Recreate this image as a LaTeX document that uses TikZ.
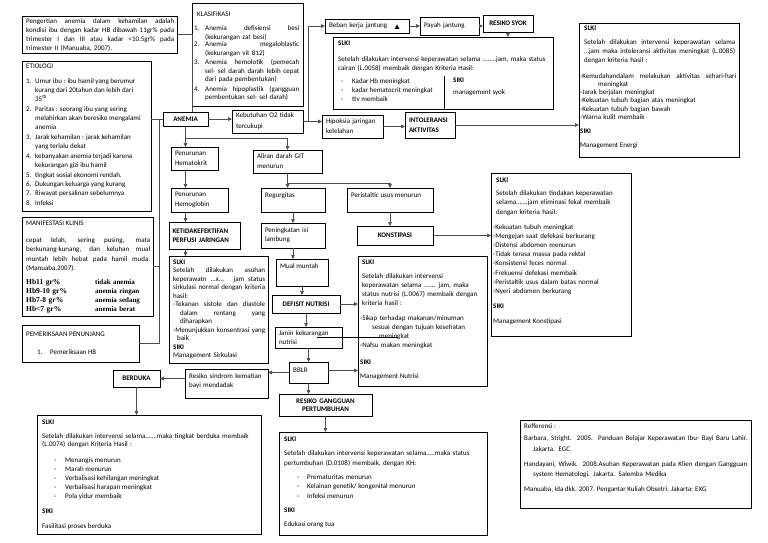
\documentclass[tikz,border=0pt]{standalone}
\usepackage{fontspec}
\setmainfont{Carlito}
\newfontfamily\serifx{Liberation Serif}
\usetikzlibrary{arrows.meta,calc}
\newcommand\ft{\fontsize{7}{9.2}\selectfont}
\newcommand\jl[1]{\makebox[\linewidth][s]{\spaceskip=0pt\relax\xspaceskip=0pt\relax #1}}
\newcommand\bx[5]{\node[box, anchor=north west, minimum width=#4pt-#2pt, minimum height=#5pt-#3pt] (#1) at (#2,#3) {};}
\begin{document}
\begin{tikzpicture}[x=1pt,y=-1pt,
 box/.style={draw=black, line width=0.8pt, inner sep=0pt, outer sep=0pt},
 tx/.style={anchor=base west, inner sep=0pt, font=\ft},
 tb/.style={anchor=base west, inner sep=0pt, font=\ft},
 kl/.style={tx, text width=94pt, font=\fontsize{7}{8.4}\selectfont},
 con/.style={draw=black!70, line width=0.6pt},
 arr/.style={con, -{Triangle[length=4pt,width=3.6pt]}}]
\useasboundingbox (0,0) rectangle (768,543);
\fill[white] (0,0) rectangle (768,543);

% ---------- definition
\bx{def}{22}{16}{177}{53}
\node[tx, text width=148pt, font=\fontsize{7}{8.7}\selectfont] (def-t) at (26,24) {\jl{Pengertian anemia dalam kehamilan adalah}\\\jl{kondisi ibu dengan kadar HB dibawah 11gr\% pada}\\\jl{trimester I dan III atau kadar <10.5gr\% pada}\\trimester II (Manuaba, 2007).};

% ---------- klasifikasi
\bx{klas}{192}{3}{303}{106}
\node[tx] (klas-h) at (197,17) {KLASIFIKASI};
\node[tx] (k1n) at (194,31) {1.};
\node[kl] (k1) at (205,31) {\jl{Anemia defisiensi besi}\\(kekurangan zat besi)};
\node[tx] (k2n) at (194,47) {2.};
\node[kl] (k2) at (205,47) {\jl{Anemia megaloblastic}\\(kekurangan vit B12)};
\node[tx] (k3n) at (194,65) {3.};
\node[kl] (k3) at (205,65) {\jl{Anemia hemolotik (pemecah}\\\jl{sel- sel darah darah lebih cepat}\\dari pada pembentukan)};
\node[tx] (k4n) at (194,91) {4.};
\node[kl] (k4) at (205,91) {\jl{Anemia hipoplastik (gangguan}\\pembentukan sel- sel darah)};

% ---------- etiologi
\bx{etio}{22}{61}{151}{211}
\node[tx] (etio-h) at (26,69) {ETIOLOGI};
\node[tb, font=\fontsize{7}{9.4}\selectfont] (etio-l) at (26,83) {\begin{tabular}[t]{@{}p{9pt}@{}l@{}}
1.&Umur ibu : ibu hamil yang berumur\\
&kurang dari 20tahun dan lebih dari\\
&35\textsuperscript{th}\\
2.&Paritas : seorang ibu yang sering\\
&melahirkan akan beresiko mengalami\\
&anemia\\
3.&Jarak kehamilan : jarak kehamilan\\
&yang terlalu dekat\\
4.&kebanyakan anemia terjadi karena\\
&kekurangan gizi ibu hamil\\
5.&tingkat sosial ekonomi rendah.\\
6.&Dukungan keluarga yang kurang\\
7.&Riwayat persalinan sebelumnya\\
8.&Infeksi
\end{tabular}};

% ---------- manifestasi
\bx{manif}{22}{217}{153}{316}
\node[tx] (manif-h) at (26,225) {MANIFESTASI KLINIS};
\node[tx, text width=124pt, font=\fontsize{7}{9.5}\selectfont] (manif-p) at (26,242) {\jl{cepat lelah, sering pusing, mata}\\\jl{berkunang-kunang, dan keluhan mual}\\\jl{muntah lebih hebat pada hamil muda.}\\(Manuaba,2007).};
\node[tx, text width=62pt, font=\serifx\fontsize{7.5}{9}\selectfont\bfseries] (hb-l) at (26,284) {Hb11 gr\%\\Hb9-10 gr\%\\Hb7-8 gr\%\\Hb<7 gr\%};
\node[tx, text width=55pt, font=\serifx\fontsize{7}{9}\selectfont\bfseries] (hb-r) at (95,284) {tidak anemia\\anemia ringan\\anemia sedang\\anemia berat};

% ---------- pemeriksaan
\bx{pemer}{22}{325}{139}{362}
\node[tx] (pemer-h) at (26,336) {PEMERIKSAAN PENUNJANG};
\node[tx] (pemer-1) at (37,354) {\makebox[13pt][l]{1.}Pemeriksaan HB};

% ---------- anemia and top chain
\node[box, anchor=north west, minimum width=45pt, minimum height=14pt, font=\ft\bfseries] (anemia) at (163,112) {ANEMIA};
\node[box, anchor=north west, minimum width=71pt, minimum height=23pt, text width=63pt, font=\fontsize{7}{11}\selectfont] (kebut) at (232,110) {Kebutuhan O2 tidak\\tercukupi};
\node[box, anchor=north west, minimum width=84pt, minimum height=14pt, text width=76pt, font=\ft] (beban) at (325,19) {Beban kerja jantung};
\fill[black] (397,24.5) -- (399.3,28.8) -- (394.7,28.8) -- cycle;
\node[box, anchor=north west, minimum width=59pt, minimum height=18pt, text width=51pt, font=\ft] (payah) at (420,17) {Payah jantung};
\node[box, anchor=north west, minimum width=50pt, minimum height=17pt, font=\ft\bfseries] (syok) at (483,15) {RESIKO SYOK};

\bx{slkisyok}{333}{37}{553}{109}
\node[tx, font=\ft\bfseries] (ss-h) at (338,46) {SLKI};
\node[tx, text width=212pt, font=\fontsize{7}{9}\selectfont] (ss-p) at (338,61.5) {Setelah dilakukan intervensi keperawatan selama ……..jam, maka status\\cairan (L.0058) membaik dengan Kriteria Hasil:};
\node[tb, font=\fontsize{7}{8.6}\selectfont] (ss-l) at (341,84) {\begin{tabular}[t]{@{}p{11pt}@{}l@{}}-&Kadar Hb meningkat\\-&kadar hematocrit meningkat\\-&ttv membaik\end{tabular}};
\coordinate (dv1) at (444,76);
\draw[line width=0.8pt] (dv1) -- (dv1 |- slkisyok.south);
\node[tx, font=\ft\bfseries] (ss-s) at (453,82) {SIKI};
\node[tx] (ss-m) at (453,94) {management syok};

\node[box, anchor=north west, minimum width=61pt, minimum height=23pt, text width=53pt, font=\fontsize{7}{10}\selectfont] (hipok) at (322,115) {Hipoksia jaringan\\kelelahan};
\node[box, anchor=north west, minimum width=50pt, minimum height=26pt, text width=42pt, font=\fontsize{7}{10}\selectfont\bfseries] (intol) at (405,112) {INTOLERANSI\\AKTIVITAS};

\bx{slkien}{579}{23}{739}{157}
\node[tx, font=\ft\bfseries] (se-h) at (584,31) {SLKI};
\node[tx, text width=151pt, font=\fontsize{7}{9}\selectfont] (se-p) at (584,45) {\jl{Setelah dilakukan intervensi keperawatan selama}\\\jl{…jam maka intoleransi aktivitas meningkat (L.0085)}\\dengan kriteria hasil :};
\node[tx, text width=156pt, font=\fontsize{7}{8.3}\selectfont] (se-l) at (580,78) {\jl{-Kemudahandalam melakukan aktivitas sehari-hari}\\\hspace*{18pt}meningkat\\-Jarak berjalan meningkat\\-Kekuatan tubuh bagian atas meningkat\\-Kekuatan tubuh bagian bawah\\-Warna kulit membaik};
\node[tx, font=\ft\bfseries] (se-s) at (580,133) {SIKI};
\node[tx] (se-m) at (580,147) {Management Energi};

% ---------- left chain
\node[box, anchor=north west, minimum width=47pt, minimum height=23pt, text width=39pt, font=\fontsize{7}{9.5}\selectfont] (hemat) at (171,147) {Penurunan\\Hematokrit};
\node[box, anchor=north west, minimum width=57pt, minimum height=24pt, text width=49pt, font=\fontsize{7}{9.5}\selectfont] (hemog) at (171,188) {Penurunan\\Hemoglobin};
\node[box, anchor=north west, minimum width=71pt, minimum height=27pt, text width=64pt, font=\fontsize{7}{9}\selectfont\bfseries] (ketidak) at (169,222) {KETIDAKEFEKTIFAN\\PERFUSI JARINGAN};

\bx{slkisirk}{169}{256}{268}{363}
\node[tx, text width=92pt, font=\fontsize{7}{8.5}\selectfont] (sk-p) at (173,264) {\textbf{SLKI}\\\jl{Setelah dilakukan asuhan}\\\jl{keperawatn ...x... jam status}\\\jl{sirkulasi normal dengan kriteria}\\hasil:\\\jl{-Tekanan sistole dan diastole}\\\hspace*{7pt}\makebox[85pt][s]{\spaceskip=0pt\relax dalam rentang yang}\\\hspace*{7pt}diharapkan\\\jl{-Menunjukkan konsentrasi yang}\\\hspace*{4pt}baik\\\textbf{SIKI}\\Management Sirkulasi};

% ---------- middle chain
\node[box, anchor=north west, minimum width=69pt, minimum height=23pt, text width=61pt, font=\fontsize{7}{10}\selectfont] (aliran) at (253,150) {Aliran darah GIT\\menurun};
\bx{regurg}{261}{188}{325}{212}
\node[tx] (regurg-t) at (265,197) {Regurgitas};
\bx{perist}{347}{188}{433}{212}
\node[tx] (perist-t) at (351,197) {Peristaltic usus menurun};
\node[box, anchor=north west, minimum width=76pt, minimum height=19pt, font=\ft\bfseries] (konst) at (357,226) {KONSTIPASI};

\bx{slkikonst}{491}{173}{631}{336}
\node[tx, font=\ft\bfseries] (sko-h) at (496,182) {SLKI};
\node[tx, text width=133pt, font=\fontsize{7}{9.5}\selectfont] (sko-p) at (496,195) {Setelah dilakukan tindakan keperawatan\\selama…….jam eliminasi fekal membaik\\dengan kriteria hasil:};
\node[tx, text width=135pt, font=\fontsize{7}{9.2}\selectfont] (sko-l) at (493,229) {-Kekuatan tubuh meningkat\\-Mengejan saat defekasi berkurang\\-Distensi abdomen menurun\\-Tidak terasa massa pada rektal\\-Konsistensi feces normal\\-Frekuensi defekasi membaik\\-Peristaltik usus dalam batas normal\\-Nyeri abdomen berkurang};
\node[tx, font=\ft\bfseries] (sko-s) at (493,308) {SIKI};
\node[tx] (sko-m) at (493,323) {Management Konstipasi};

\node[box, anchor=north west, minimum width=64pt, minimum height=25pt, text width=56pt, font=\fontsize{7}{9}\selectfont] (pening) at (261,223) {Peningkatan isi\\lambung};
\bx{mual}{276}{259}{328}{286}
\node[tx] (mual-t) at (280,268) {Mual muntah};
\node[box, anchor=north west, minimum width=68pt, minimum height=18pt, font=\ft\bfseries] (defisit) at (272,295) {DEFISIT NUTRISI};
\node[box, anchor=north west, minimum width=67pt, minimum height=21pt, text width=59pt, font=\fontsize{7}{9}\selectfont] (janin) at (275,327) {Janin kekurangan\\nutrisi};

\bx{slkinutr}{358}{256}{487}{386}
\node[tx, font=\ft\bfseries] (sn-h) at (362,264) {SLKI};
\node[tx, text width=123pt, font=\fontsize{7}{9}\selectfont] (sn-p) at (362,278) {Setelah dilakukan intervensi\\keperawatan selama ……. jam, maka\\status nutrisi (L.0067) membaik dengan\\kriteria hasil :};
\node[tx, text width=125pt, font=\fontsize{7}{9}\selectfont] (sn-l) at (360,320) {-Sikap terhadap makanan/minuman\\\hspace*{12pt}sesuai dengan tujuan kesehatan\\\hspace*{19pt}meningkat\\-Nafsu makan meningkat};
\node[tx, font=\ft\bfseries] (sn-s) at (360,364) {SIKI};
\node[tx] (sn-m) at (360,378) {Management Nutrisi};

% ---------- bottom
\bx{bblr}{289}{362}{328}{383}
\node[tx] (bblr-t) at (293,372) {BBLR};
\bx{resikosin}{185}{369}{268}{398}
\node[tx, text width=79pt, font=\fontsize{7}{9.5}\selectfont] (resikosin-t) at (189,378) {Resiko sindrom kematian\\bayi mendadak};
\node[box, anchor=north west, minimum width=47pt, minimum height=17pt, font=\ft\bfseries] (berduka) at (113,370) {BERDUKA};
\node[box, anchor=north west, minimum width=93pt, minimum height=22pt, text width=90pt, align=center, font=\fontsize{7}{8.5}\selectfont\bfseries] (resikogg) at (279,394) {RESIKO GANGGUAN\\PERTUMBUHAN};

\bx{slkiberd}{37}{415}{261}{534}
\node[tx, font=\ft\bfseries] (sb-h) at (42,424) {SLKI};
\node[tx, text width=216pt, font=\fontsize{7}{8.6}\selectfont] (sb-p) at (42,438) {Setelah dilakukan intervensi selama…….maka tingkat berduka membaik\\(L.0074) dengan Kriteria Hasil :};
\node[tb, font=\fontsize{7}{9.2}\selectfont] (sb-l) at (54,462) {\begin{tabular}[t]{@{}p{11pt}@{}l@{}}-&Menangis menurun\\-&Marah menurun\\-&Verbalisasi kehilangan meningkat\\-&Verbalisasi harapan meningkat\\-&Pola yidur membaik\end{tabular}};
\node[tx, font=\ft\bfseries] (sb-s) at (42,513) {SIKI};
\node[tx] (sb-m) at (42,528) {Fasilitasi proses berduka};

\bx{slkipert}{279}{432}{487}{535}
\node[tx, font=\ft\bfseries] (sp-h) at (284,441) {SLKI};
\node[tx, text width=200pt, font=\fontsize{7}{10}\selectfont] (sp-p) at (284,455) {Setelah dilakukan intervensi keperawatan selama…..maka status\\pertumbuhan (D.0108) membaik, dengan KH:};
\node[tb, font=\fontsize{7}{9.5}\selectfont] (sp-l) at (297,479) {\begin{tabular}[t]{@{}p{10pt}@{}l@{}}-&Prematuritas menurun\\-&Kelainan genetik/ kongenital menurun\\-&Infeksi menurun\end{tabular}};
\node[tx, font=\ft\bfseries] (sp-s) at (284,512) {SIKI};
\node[tx] (sp-m) at (284,526) {Edukasi orang tua};

\bx{ref}{520}{420}{751}{508}
\node[tx] (ref-h) at (524,428) {Refferensi :};
\node[tx, text width=223pt, font=\fontsize{7}{11}\selectfont] (ref-1) at (524,440) {\jl{Barbara, Stright. 2005. Panduan Belajar Keperawatan Ibu- Bayi Baru Lahir.}\\\hspace*{9pt}Jakarta. EGC};
\node[tx, text width=223pt, font=\fontsize{7}{10}\selectfont] (ref-2) at (524,466) {\jl{Handayani, Wiwik. 2008.Asuhan Keperawatan pada Klien dengan Gangguan}\\\hspace*{9pt}system Hematologi. Jakarta. Salemba Medika};
\node[tx] (ref-3) at (524,491) {Manuaba, Ida dkk. 2007. Pengantar Kuliah Obsetri. Jakarta: EXG};

% ---------- connectors
\draw[con] (def.east) -| (anemia.north -| klas.west);
\draw[con] (etio.east |- anemia.west) -- (anemia.west);
\coordinate (bT) at (159,119);
\draw[con] (pemer.east) -| (bT);
\draw[con] (manif.east) -- (manif.east -| bT);
\draw[arr] (anemia.east) -- (anemia.east -| kebut.west);
\coordinate (j1) at (308,121.5);
\draw[con] (kebut.east) -- (j1);
\draw[arr] (j1) |- (beban.west);
\draw[arr] (j1) -- (j1 -| hipok.west);
\draw[arr] (beban.east) -- (beban.east -| payah.west);
\draw[arr] (payah.east) -- (payah.east -| syok.west);
\draw[arr] (syok.south) -- (syok.south |- slkisyok.north);
\draw[arr] (hipok.east) -- (hipok.east -| intol.west);
\draw[arr] (intol.east) -- (intol.east -| slkien.west);
\coordinate (j2) at (185.5,138);
\draw[arr] (anemia.south) -- (anemia.south |- hemat.north);
\draw[arr] (j2) -| (aliran.north);
\draw[arr] (anemia.south |- hemat.south) -- (anemia.south |- hemog.north);
\draw[arr] (anemia.south |- hemog.south) -- (anemia.south |- ketidak.north);
\draw[arr] (anemia.south |- ketidak.south) -- (anemia.south |- slkisirk.north);
\coordinate (j3) at (287.5,183);
\draw[arr] (aliran.south) -- (aliran.south |- regurg.north);
\draw[arr] (j3) -| (perist.north);
\draw[arr] (perist.south) -- (perist.south |- konst.north);
\draw[arr] (konst.east) -- (konst.east -| slkikonst.west);
\draw[arr] (regurg.south) -- (regurg.south |- pening.north);
\draw[arr] (pening.south) -- (pening.south |- mual.north);
\draw[arr] (mual.south) -- (mual.south |- defisit.north);
\draw[arr] (defisit.east) -- (defisit.east -| slkinutr.west);
\draw[arr] (defisit.south) -- (defisit.south |- janin.north);
\coordinate (jend) at (398,337.5);
\draw[line width=0.8pt] ($(janin.center)+(8.5,0)$) -- (jend);
\draw[arr] (janin.south) -- (janin.south |- bblr.north);
\draw[arr] (bblr.west) -- (bblr.west -| resikosin.east);
\draw[arr] ($(bblr.east)+(0,-2)$) -- ($(bblr.east -| slkinutr.west)+(0,-2)$);
\draw[arr] (bblr.south) -- (bblr.south |- resikogg.north);
\draw[arr] (berduka.east -| resikosin.west) -- (berduka.east);
\draw[arr] (berduka.south) -- (berduka.south |- slkiberd.north);
\draw[arr] (resikogg.south) -- (resikogg.south |- slkipert.north);
\end{tikzpicture}
\end{document}
